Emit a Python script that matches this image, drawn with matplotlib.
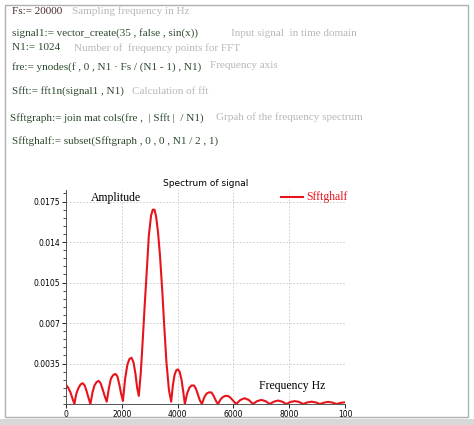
import matplotlib
matplotlib.use("Agg")
import matplotlib.pyplot as plt
from matplotlib.patches import Rectangle

freq = [0, 80, 160, 230, 300, 370, 450, 525, 600, 670, 740, 810, 875, 950, 1020, 1095, 1170,
        1240, 1310, 1385, 1460, 1540, 1610, 1690, 1770, 1840, 1910, 1975, 2040, 2120, 2200,
        2275, 2350, 2420, 2490, 2550, 2610, 2680, 2750, 2820, 2900, 2970, 3050, 3110, 3170,
        3230, 3300, 3370, 3450, 3520, 3600, 3690, 3770, 3830, 3890, 3950, 4010, 4070, 4140,
        4200, 4260, 4340, 4420, 4500, 4590, 4660, 4730, 4800, 4870, 4960, 5040, 5120, 5210,
        5270, 5330, 5390, 5450, 5540, 5620, 5710, 5800, 5870, 5950, 6020, 6100,
        6250, 6400, 6550, 6700, 6850, 7000, 7150, 7300, 7450, 7600, 7750, 7900, 8050, 8200,
        8350, 8500, 8650, 8800, 8950, 9100, 9250, 9400, 9550, 9700, 9850, 10000]
amp = [0.00166, 0.0014, 0.0010, 0.0005, 0.0, 0.0009, 0.0014, 0.0017, 0.0018, 0.0016, 0.0011,
       0.0005, 0.0, 0.0010, 0.0016, 0.0019, 0.0020, 0.0018, 0.0013, 0.0007, 0.0002, 0.0014,
       0.0022, 0.0025, 0.0026, 0.0024, 0.0017, 0.0009, 0.00026, 0.0022, 0.0034, 0.0039,
       0.0040, 0.0036, 0.0026, 0.0014, 0.0007, 0.0027, 0.0055, 0.0085, 0.0117, 0.0146, 0.0163,
       0.0168, 0.0168, 0.0162, 0.0148, 0.0128, 0.0098, 0.0068, 0.0036, 0.0012, 0.0002, 0.0016,
       0.0025, 0.0029, 0.0030, 0.0028, 0.0021, 0.0011, 0.0, 0.0009, 0.0014, 0.0016, 0.0016,
       0.0013, 0.0008, 0.0003, 0.0, 0.0006, 0.0009, 0.0010, 0.0010, 0.0008, 0.0005, 0.0002,
       0.0, 0.0004, 0.0006, 0.0007, 0.0007, 0.0006, 0.0004, 0.0002, 0.0,
       0.00035, 0.0005, 0.00035, 0.0, 0.00025, 0.00035, 0.00025, 0.0, 0.0002, 0.0003, 0.0002,
       0.0, 0.00018, 0.00025, 0.00018, 0.0, 0.00014, 0.0002, 0.00014, 0.0, 0.00012, 0.00018,
       0.00012, 0.0, 0.0001, 0.00015]
yticks = [0.0035, 0.007, 0.0105, 0.014, 0.0175]
xticks = [0, 2000, 4000, 6000, 8000, 10000]

W, H = 474, 425
fig = plt.figure(figsize=(W/100, H/100), dpi=100)
fig.patches.append(Rectangle((5/W, 8/H), 463/W, 412/H, transform=fig.transFigure,
                             fill=False, edgecolor='#b0b0b0', lw=1))
fig.patches.append(Rectangle((0, 0), 1, 6/H, transform=fig.transFigure,
                             facecolor='#d8d8d8', edgecolor='none'))

serif = 'Liberation Serif'
g = '#2d4a2d'
c = '#b8b8b8'
def line(x, y, s, col=g, size=8.0):
    fig.text(x/W, 1-y/H, s, family=serif, fontsize=size, color=col, va='center')

line(12, 11, 'Fs:= 20000', '#4a2a2a'); line(72, 11, 'Sampling frequency in Hz', c)
line(12, 33, 'signal1:= vector_create(35 , false , sin(x))'); line(231, 33, 'Input signal  in time domain', c)
line(12, 48, 'N1:= 1024'); line(74, 48, 'Number of  frequency points for FFT', c)
line(12, 67, 'fre:= ynodes(f , 0 , N1 · Fs / (N1 - 1) , N1)'); line(210, 66, 'Frequency axis', c)
line(12, 91, 'Sfft:= fft1n(signal1 , N1)'); line(132, 91, 'Calculation of fft', c)
line(10, 118, 'Sfftgraph:= join mat cols(fre ,  | Sfft |  / N1)'); line(216, 117, 'Grpah of the frequency spectrum', c)
line(12, 141, 'Sfftghalf:= subset(Sfftgraph , 0 , 0 , N1 / 2 , 1)')

ax = fig.add_axes([66/W, 1-404/H, 279/W, 214/H])
ax.plot(freq, amp, color='#e8141c', lw=1.5)
ax.set_xlim(0, 10000)
ax.set_ylim(0, 0.0185)
ax.set_xticks(xticks)
ax.set_xticklabels(['0', '2000', '4000', '6000', '8000', '100'])
ax.set_yticks(yticks)
ax.set_yticklabels(['0.0035', '0.007', '0.0105', '0.014', '0.0175'])
ax.set_yticks([0.0035*i/5 for i in range(27)], minor=True)
ax.tick_params(labelsize=5.5, length=3, width=0.6, pad=1)
ax.tick_params(which='minor', length=2, width=0.5)
ax.grid(True, ls=(0, (2, 2)), color='#c8c8c8', lw=0.6)
for s in ['top', 'right']:
    ax.spines[s].set_visible(False)
for s in ['left', 'bottom']:
    ax.spines[s].set_color('#555555'); ax.spines[s].set_linewidth(0.7)
ax.set_title('Spectrum of signal', fontsize=6.5, pad=3)
ax.text(0.09, 0.95, 'Amplitude', transform=ax.transAxes, family=serif, fontsize=8.5)
ax.text(0.69, 0.07, 'Frequency Hz', transform=ax.transAxes, family=serif, fontsize=8.5)
ax.plot([0.77, 0.85], [0.965, 0.965], transform=ax.transAxes, color='#e8141c', lw=1.5, clip_on=False)
ax.text(0.86, 0.965, 'Sfftghalf', transform=ax.transAxes, family=serif, fontsize=8.5,
        color='#e8141c', va='center', clip_on=False)
fig.savefig('out.png', dpi=100)
